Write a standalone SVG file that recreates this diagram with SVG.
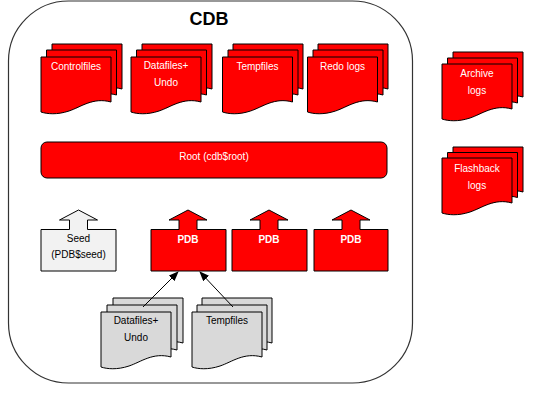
<svg xmlns="http://www.w3.org/2000/svg" xmlns:xlink="http://www.w3.org/1999/xlink" width="535" height="409" viewBox="0 0 535 409">
<style>
.red{fill:#ff0000;stroke:#000;stroke-width:1}
.gray{fill:#d9d9d9;stroke:#000;stroke-width:1}
.seed{fill:#f2f2f2;stroke:#000;stroke-width:1}
.wt{font-family:"Liberation Sans",Arial,sans-serif;font-size:10px;fill:#fff;text-anchor:middle}
.bt{font-family:"Liberation Sans",Arial,sans-serif;font-size:10px;fill:#000;text-anchor:middle}
.pdb{font-family:"Liberation Sans",Arial,sans-serif;font-size:10px;font-weight:bold;fill:#fff;text-anchor:middle}
.conn{stroke:#000;stroke-width:1;fill:none;marker-end:url(#ah)}
</style>
<defs>
<path id="doc" d="M0,0 H70 V45 C52,40 40,50 28,54 C16,58 6,57 0,55 Z"/>
<marker id="ah" markerWidth="10" markerHeight="8" refX="9" refY="4" orient="auto" markerUnits="userSpaceOnUse">
<path d="M0,0 L10,4 L0,8 Z" fill="#000"/>
</marker>
</defs>
<rect width="535" height="409" fill="#fff"/>
<g id="cdb">
<rect x="8.5" y="1" width="404" height="382" rx="60" ry="60" fill="#fff" stroke="#333" stroke-width="1.2"/>
<text x="209" y="25" font-family="Liberation Sans,Arial,sans-serif" font-size="18" font-weight="bold" text-anchor="middle" fill="#000">CDB</text>
</g>
<g id="controlfiles">
<use xlink:href="#doc" x="52" y="44" class="red"/>
<use xlink:href="#doc" x="46.5" y="50" class="red"/>
<use xlink:href="#doc" x="41" y="57" class="red"/>
<text x="76" y="69.5" class="wt">Controlfiles</text>
</g>
<g id="datafiles-undo">
<use xlink:href="#doc" x="142" y="44" class="red"/>
<use xlink:href="#doc" x="136.5" y="50" class="red"/>
<use xlink:href="#doc" x="131" y="57" class="red"/>
<text x="166" y="68.5" class="wt">Datafiles+</text>
<text x="166" y="85.5" class="wt">Undo</text>
</g>
<g id="tempfiles">
<use xlink:href="#doc" x="233" y="44" class="red"/>
<use xlink:href="#doc" x="228" y="50" class="red"/>
<use xlink:href="#doc" x="222.5" y="57" class="red"/>
<text x="257.5" y="69.5" class="wt">Tempfiles</text>
</g>
<g id="redo-logs">
<use xlink:href="#doc" x="318" y="44" class="red"/>
<use xlink:href="#doc" x="313" y="50" class="red"/>
<use xlink:href="#doc" x="307.5" y="57" class="red"/>
<text x="342.5" y="69.5" class="wt">Redo logs</text>
</g>
<g id="archive-logs">
<use xlink:href="#doc" x="453" y="52" class="red"/>
<use xlink:href="#doc" x="447.5" y="58" class="red"/>
<use xlink:href="#doc" x="442" y="64" class="red"/>
<text x="477" y="76.5" class="wt">Archive</text>
<text x="477" y="93.5" class="wt">logs</text>
</g>
<g id="flashback-logs">
<use xlink:href="#doc" x="453" y="147" class="red"/>
<use xlink:href="#doc" x="447.5" y="152.5" class="red"/>
<use xlink:href="#doc" x="442" y="158" class="red"/>
<text x="477" y="171.5" class="wt">Flashback</text>
<text x="477" y="188.5" class="wt">logs</text>
</g>
<g id="root">
<rect x="41" y="142" width="346" height="36" rx="6" ry="6" class="red"/>
<text x="214" y="160" class="wt">Root (cdb$root)</text>
</g>
<g id="seed">
<path class="seed" d="M41,229.5 H69.5 V220 H59.5 L78.5,210 L97.5,220 H87.5 V229.5 H116 V271 H41 Z"/>
<text x="78.5" y="241.5" class="bt">Seed</text>
<text x="78.5" y="257.5" class="bt">(PDB$seed)</text>
</g>
<g id="pdb1">
<path class="red" d="M151,229.5 H179 V220 H169 L188,210 L207,220 H197 V229.5 H226 V271 H151 Z"/>
<text x="188" y="243" class="pdb">PDB</text>
</g>
<g id="pdb2">
<path class="red" d="M232,229.5 H260 V220 H250 L269,210 L288,220 H278 V229.5 H307 V271 H232 Z"/>
<text x="269" y="243" class="pdb">PDB</text>
</g>
<g id="pdb3">
<path class="red" d="M314,229.5 H342 V220 H332 L351,210 L370,220 H360 V229.5 H388 V271 H314 Z"/>
<text x="351" y="243" class="pdb">PDB</text>
</g>
<g id="pdb-datafiles">
<use xlink:href="#doc" x="113" y="298" class="gray"/>
<use xlink:href="#doc" x="107" y="305" class="gray"/>
<use xlink:href="#doc" x="101" y="312" class="gray"/>
<text x="136" y="323.5" class="bt">Datafiles+</text>
<text x="136" y="340.5" class="bt">Undo</text>
</g>
<g id="pdb-tempfiles">
<use xlink:href="#doc" x="202" y="298" class="gray"/>
<use xlink:href="#doc" x="197" y="305" class="gray"/>
<use xlink:href="#doc" x="192" y="312" class="gray"/>
<text x="227" y="323.5" class="bt">Tempfiles</text>
</g>
<g id="connectors">
<line x1="143" y1="307" x2="178" y2="272" class="conn"/>
<line x1="233" y1="307" x2="200" y2="272" class="conn"/>
</g>
</svg>
